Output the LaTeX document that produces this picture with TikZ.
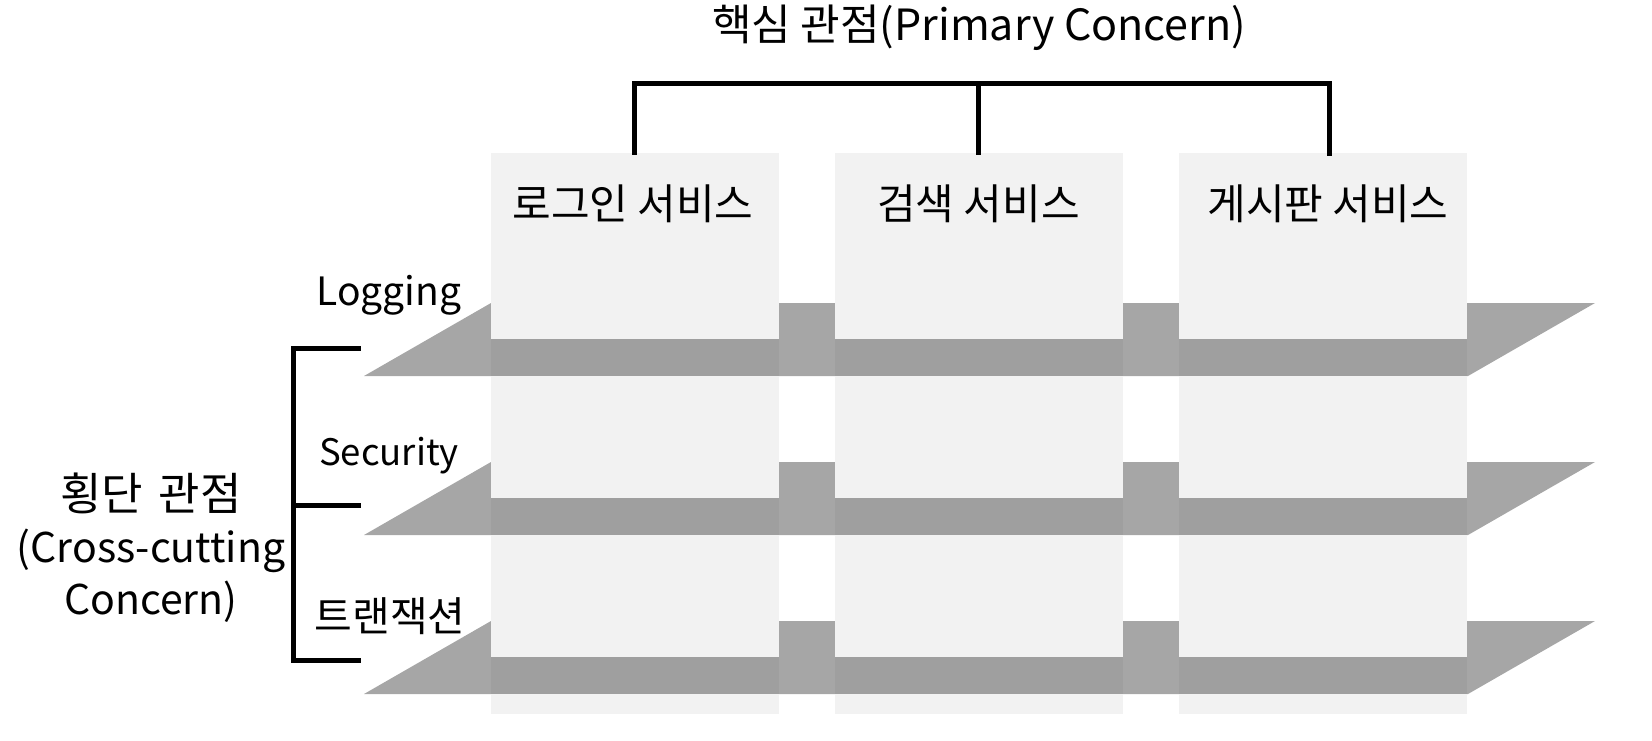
\documentclass[tikz,border=0pt]{standalone}
\usepackage{fontspec}
\setmainfont{Noto Sans CJK KR}
\definecolor{colgray}{HTML}{F2F2F2}
\definecolor{planegray}{HTML}{A6A6A6}
\definecolor{bandgray}{HTML}{9F9F9F}
\tikzset{
  colbox/.style={fill=colgray, draw=none, inner sep=0pt, minimum width=288pt, minimum height=561pt},
  brk/.style={draw=black, line width=5pt, line cap=rect},
  bigtxt/.style={inner sep=0pt, font=\fontsize{42}{50}\selectfont},
  laytxt/.style={inner sep=0pt, font=\fontsize{37}{44}\selectfont, anchor=base},
  plane/.style={fill=planegray, draw=none},
  band/.style={fill=bandgray, draw=none}
}
\begin{document}
\begin{tikzpicture}[x=1pt,y=-1pt]
\useasboundingbox (0,0) rectangle (1652,740);
% planes
\foreach \T in {303,462,621}{
  \fill[plane] (364,\T+73) -- (491,\T) -- (1595,\T) -- (1468,\T+73) -- cycle;
}
% columns
\node[colbox] (c1) at (634.5,433.5) {};
\node[colbox] (c2) at (978.5,433.5) {};
\node[colbox] (c3) at (1323,433.5) {};
% front bands over columns
\foreach \T in {303,462,621}{
  \foreach \a/\b in {490.5/778.5,834.5/1122.5,1179/1467}{
    \fill[band] (\a,\T+36) rectangle (\b,\T+73);
  }
}
% column labels
\node[bigtxt] (l1) at (633,204) {로그인 서비스};
\node[bigtxt] (l2) at (978.5,204) {검색 서비스};
\node[bigtxt] (l3) at (1328,204) {게시판 서비스};
% title and top bracket
\node[bigtxt, font=\fontsize{43}{50}\selectfont] (title) at (979,28) {핵심 관점(Primary Concern)};
\coordinate (c3top) at (1329,153);
\draw[brk] (c1.north) -- ++(0,-69) -| (c3top);
\draw[brk] (c2.north) -- ++(0,-69);
% layer labels
\node[laytxt, font=\fontsize{39}{44}\selectfont] (log) at (389,305) {Logging};
\node[laytxt, font=\fontsize{36.5}{44}\selectfont] (sec) at (389,465) {Security};
\node[laytxt, font=\fontsize{41}{44}\selectfont] (tx) at (390,631) {트랜잭션};
% left bracket
\coordinate (lt1) at (358,348);
\coordinate (lt2) at (358,505);
\coordinate (lt3) at (358,660);
\coordinate (lv1) at (293,348);
\coordinate (lv2) at (293,505);
\coordinate (lv3) at (293,660);
\draw[brk] (lt1) -- (lv1) -- (lv3) -- (lt3);
\draw[brk] (lv2) -- (lt2);
\node[inner sep=0pt, align=center, font=\fontsize{41}{52}\selectfont] (cc) at (151,548) {{\fontsize{45}{52}\selectfont 횡단\hspace{0.35em}관점}\\(Cross-cutting\\Concern)};
\end{tikzpicture}
\end{document}
